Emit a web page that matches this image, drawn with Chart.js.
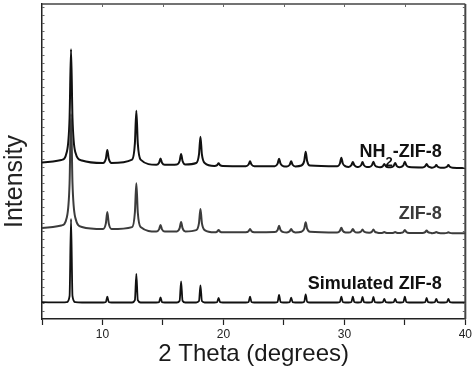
<!DOCTYPE html>
<html><head><meta charset="utf-8">
<script src="https://cdn.jsdelivr.net/npm/chart.js@4.4.1/dist/chart.umd.min.js"></script>
<style>html,body{margin:0;padding:0;background:#fff;}canvas{display:block;}</style>
</head><body>
<canvas id="c" width="474" height="370"></canvas>
<script>
// 2θ positions (degrees)
const twoTheta = [5,
 6.6, 7.05, 7.28, 7.4, 7.52, 7.75, 8.3,
 10.05, 10.28, 10.4, 10.52, 10.75,
 12.45, 12.68, 12.8, 12.92, 13.15,
 14.45, 14.68, 14.8, 14.92, 15.15,
 16.15, 16.38, 16.5, 16.62, 16.85,
 17.75, 17.98, 18.1, 18.22, 18.45,
 19.25, 19.48, 19.6, 19.72, 19.95,
 21.85, 22.08, 22.2, 22.32, 22.55,
 24.25, 24.48, 24.6, 24.72, 24.95,
 25.25, 25.48, 25.6, 25.72, 25.95,
 26.45, 26.68, 26.8, 26.92, 27.15,
 29.4, 29.63, 29.75, 29.87, 30.1,
 30.35, 30.58, 30.7, 30.82, 31.05,
 31.15, 31.38, 31.5, 31.62, 31.85,
 32.05, 32.28, 32.4, 32.52, 32.75,
 32.95, 33.18, 33.3, 33.42, 33.65,
 33.85, 34.08, 34.2, 34.32, 34.55,
 34.65, 34.88, 35.0, 35.12, 35.35,
 36.45, 36.68, 36.8, 36.92, 37.15,
 37.25, 37.48, 37.6, 37.72, 37.95,
 38.25, 38.48, 38.6, 38.72, 38.95,
 40];

// Intensities (arbitrary units, stacked with offsets as in the figure)
const nh2Zif8 = [156.5,
 159, 167, 201, 269.7, 201, 167, 158.5,
 156, 160.3, 169, 160.3, 156,
 159.4, 175.6, 208.3, 175.6, 159.4,
 154.2, 156.3, 160.5, 156.3, 154.2,
 154.5, 158, 165, 158, 154.5,
 156, 164.7, 182.3, 164.7, 156,
 153, 153.9, 155.7, 153.9, 153,
 152.8, 154.5, 157.7, 154.5, 152.8,
 152.8, 155.3, 160.3, 155.3, 152.8,
 152.6, 154.3, 157.7, 154.3, 152.6,
 153.5, 158.1, 167.3, 158.1, 153.5,
 152.7, 155.5, 161.3, 155.5, 152.7,
 152.1, 153.8, 157, 153.8, 152.1,
 152.1, 153.7, 157, 153.7, 152.1,
 152.1, 153.8, 157.3, 153.8, 152.1,
 151.8, 152.8, 155, 152.8, 151.8,
 151.8, 153.2, 156, 153.2, 151.8,
 151.9, 153.7, 157.3, 153.7, 151.9,
 151.5, 152.7, 155, 152.7, 151.5,
 151.3, 152.2, 154, 152.2, 151.3,
 151.3, 152.2, 154, 152.2, 151.3,
 151];

const zif8 = [91,
 93.5, 101.5, 136, 205, 136, 101.5, 92,
 89.9, 95.6, 107, 95.6, 89.9,
 91.9, 106.5, 135.7, 106.5, 91.9,
 87.4, 89.6, 94, 89.6, 87.4,
 87.6, 90.8, 97, 90.8, 87.6,
 88.9, 95.9, 110, 95.9, 88.9,
 86.7, 87.4, 89, 87.4, 86.7,
 86.7, 87.8, 90, 87.8, 86.7,
 86.9, 89, 93.3, 89, 86.9,
 86.6, 87.7, 90, 87.7, 86.6,
 87.2, 90.3, 96.7, 90.3, 87.2,
 86.5, 88.1, 91.3, 88.1, 86.5,
 86.4, 87.6, 90, 87.6, 86.4,
 86.4, 87.4, 89.5, 87.4, 86.4,
 86.3, 87.3, 89.5, 87.3, 86.3,
 86, 86.3, 87, 86.3, 86,
 86, 86.3, 87, 86.3, 86,
 86.1, 87.1, 89, 87.1, 86.1,
 86.1, 86.9, 88.5, 86.9, 86.1,
 85.8, 86.2, 87, 86.2, 85.8,
 85.8, 86.1, 86.8, 86.1, 85.8,
 85.7];

const simulatedZif8 = [16.8,
 16.6, 16.8, 23, 100, 23, 16.8, 16.5,
 16.5, 17, 22.3, 17, 16.5,
 16.5, 18.8, 45, 18.8, 16.5,
 16.5, 16.9, 21.7, 16.9, 16.5,
 16.5, 18.2, 37.7, 18.2, 16.5,
 16.5, 17.9, 33.7, 17.9, 16.5,
 16.5, 16.9, 21, 16.9, 16.5,
 16.5, 17, 22.3, 17, 16.5,
 16.5, 17.1, 24, 17.1, 16.5,
 16.5, 16.9, 21.3, 16.9, 16.5,
 16.5, 17.2, 24.7, 17.2, 16.5,
 16.5, 17, 22.3, 17, 16.5,
 16.5, 17, 22.3, 17, 16.5,
 16.5, 16.9, 22, 16.9, 16.5,
 16.5, 16.9, 22, 16.9, 16.5,
 16.5, 16.8, 20, 16.8, 16.5,
 16.5, 16.8, 20, 16.8, 16.5,
 16.5, 17, 22.3, 17, 16.5,
 16.5, 16.8, 21, 16.8, 16.5,
 16.5, 16.8, 20, 16.8, 16.5,
 16.5, 16.8, 20, 16.8, 16.5,
 16.5];

const seriesNames = ['NH2-ZIF-8', 'ZIF-8', 'Simulated ZIF-8'];
const xAxisTitle = '2 Theta (degrees)';
const yAxisTitle = 'Intensity';

const FONT = "'Liberation Sans', Arial, sans-serif";
const pts = arr => twoTheta.map((x, i) => ({x, y: arr[i]}));

// label anchor positions (data coordinates), kept separate from data
const labelAnchors = [
  {x: 38.05, y: 162, color: '#111', sub: true},
  {x: 38.05, y: 100.5, color: '#3a3a3a'},
  {x: 38.05, y: 30.5, color: '#111'}
];

const decor = {
  id: 'decor',
  afterDraw(chart) {
    const {ctx, chartArea: a, scales: {x, y}} = chart;
    ctx.save();
    // top & right frame
    ctx.strokeStyle = '#444';
    ctx.lineWidth = 1.5;
    ctx.beginPath(); ctx.moveTo(a.left, a.top); ctx.lineTo(a.right, a.top); ctx.stroke();
    ctx.lineWidth = 2;
    ctx.beginPath(); ctx.moveTo(a.right, a.top); ctx.lineTo(a.right, a.bottom); ctx.stroke();
    // inward minor ticks
    ctx.lineWidth = 1; ctx.strokeStyle = '#666';
    ctx.beginPath();
    for (let v = 8; v < y.max; v += 8) {
      const py = Math.round(y.getPixelForValue(v)) + 0.5;
      ctx.moveTo(a.left, py); ctx.lineTo(a.left + 2.5, py);
      ctx.moveTo(a.right, py); ctx.lineTo(a.right - 2.5, py);
    }
    for (let v = 10; v < x.max; v += 5) {
      const px = Math.round(x.getPixelForValue(v)) + 0.5;
      ctx.moveTo(px, a.top); ctx.lineTo(px, a.top + 3);
    }
    ctx.stroke();
    // y title
    ctx.fillStyle = '#222';
    ctx.font = '25px ' + FONT;
    ctx.textAlign = 'center'; ctx.textBaseline = 'alphabetic';
    ctx.translate(21.5, 181.5); ctx.rotate(-Math.PI / 2);
    ctx.fillText(yAxisTitle, 0, 0);
    ctx.setTransform(1, 0, 0, 1, 0, 0);
    // series labels
    labelAnchors.forEach((L, i) => {
      const px = x.getPixelForValue(L.x), py = y.getPixelForValue(L.y);
      ctx.fillStyle = L.color;
      ctx.textAlign = 'left'; ctx.textBaseline = 'alphabetic';
      if (L.sub) {
        const name = seriesNames[i];
        const a1 = name.slice(0, 2), s = name.slice(2, 3), a2 = name.slice(3);
        ctx.font = 'bold 18px ' + FONT; const w1 = ctx.measureText(a1).width, w3 = ctx.measureText(a2).width;
        ctx.font = 'bold 13px ' + FONT; const w2 = ctx.measureText(s).width;
        let sx = px - (w1 + w2 + w3);
        ctx.font = 'bold 18px ' + FONT; ctx.fillText(a1, sx, py); sx += w1;
        ctx.font = 'bold 13px ' + FONT; ctx.fillText(s, sx, py + 9); sx += w2;
        ctx.font = 'bold 18px ' + FONT; ctx.fillText(a2, sx, py);
      } else {
        ctx.font = 'bold 18px ' + FONT;
        ctx.textAlign = 'right';
        ctx.fillText(seriesNames[i], px, py);
      }
    });
    ctx.restore();
  }
};

new Chart(document.getElementById('c'), {
  type: 'line',
  data: {
    datasets: [
      {label: seriesNames[0], data: pts(nh2Zif8), borderColor: '#111', borderWidth: 2, order: 3},
      {label: seriesNames[1], data: pts(zif8), borderColor: '#3c3c3c', borderWidth: 2, order: 2},
      {label: seriesNames[2], data: pts(simulatedZif8), borderColor: '#111', borderWidth: 1.8, order: 1}
    ]
  },
  options: {
    responsive: false,
    animation: false,
    devicePixelRatio: 1,
    layout: {padding: {top: 4, right: 8, left: 0, bottom: 0}},
    elements: {point: {radius: 0}, line: {cubicInterpolationMode: 'monotone', fill: false}},
    plugins: {legend: {display: false}, tooltip: {enabled: false}},
    scales: {
      x: {
        type: 'linear', min: 5, max: 40,
        afterFit: s => { s.height = 51; },
        ticks: {stepSize: 5, autoSkip: false, maxRotation: 0, padding: 2, color: '#222',
          font: {family: FONT, size: 12},
          callback: v => (v % 10 === 0 ? String(v) : '')},
        grid: {drawOnChartArea: false, drawTicks: true, tickLength: 6, tickColor: '#222', tickWidth: 1.2},
        border: {display: true, color: '#222', width: 1.5},
        title: {display: true, text: xAxisTitle, color: '#1a1a1a', font: {family: FONT, size: 24}, padding: {top: 0, bottom: 1}}
      },
      y: {
        type: 'linear', min: 0, max: 315,
        afterFit: s => { s.width = 42; },
        ticks: {display: false},
        grid: {display: false},
        border: {display: true, color: '#222', width: 1.5}
      }
    }
  },
  plugins: [decor]
});
</script>
</body></html>
